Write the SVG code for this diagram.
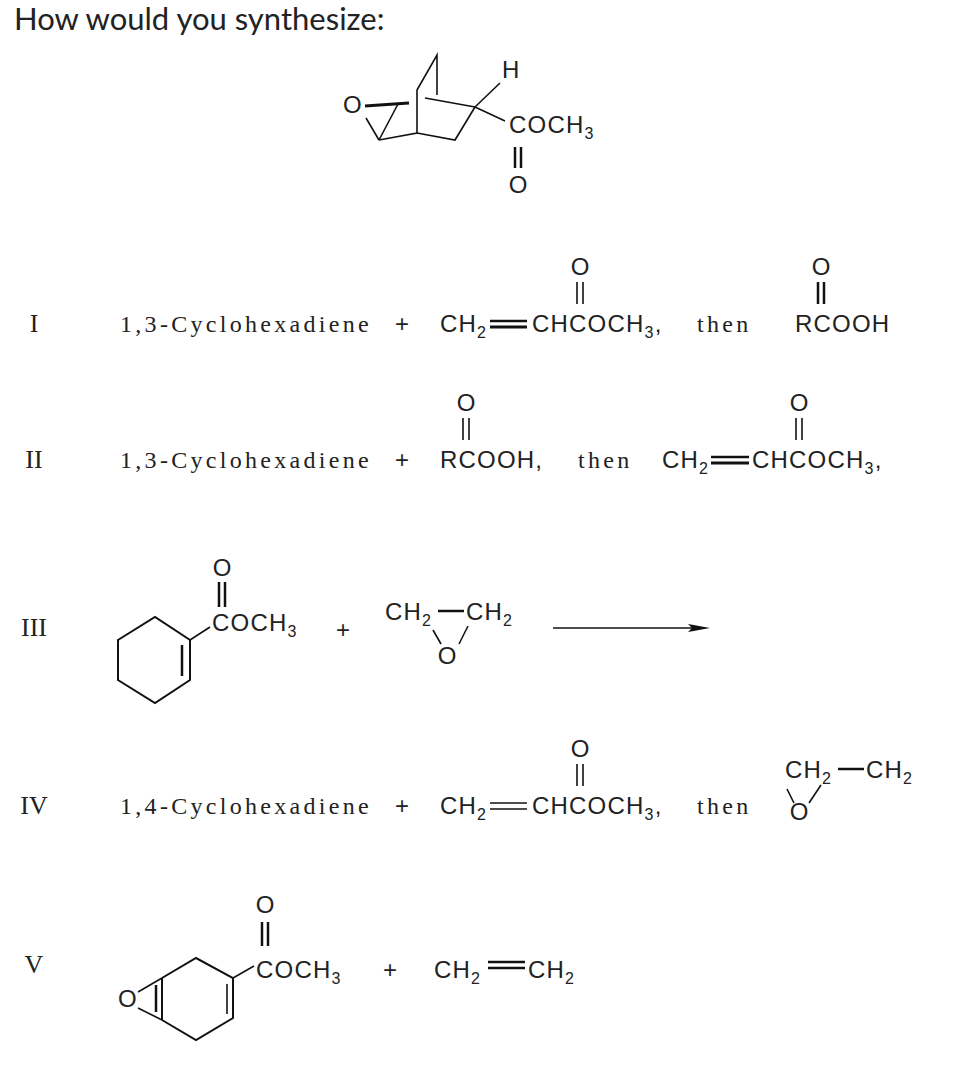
<svg xmlns="http://www.w3.org/2000/svg" width="966" height="1088" viewBox="0 0 966 1088">
<style>
.t{font-family:"Liberation Sans",Arial,sans-serif;font-size:24px;letter-spacing:1.2px;fill:#222}
.s{font-size:16px}
.r{font-family:"Liberation Serif","DejaVu Serif",serif;font-size:26px;fill:#222}
.n{font-family:"Liberation Serif","DejaVu Serif",serif;font-size:24px;letter-spacing:3.3px;fill:#222}
.m{text-anchor:middle;letter-spacing:0}
.b{stroke:#111;stroke-width:1.6;fill:none}
</style>
<rect width="966" height="1088" fill="#fff"/>
<text x="14" y="30" font-family="Lato,'Liberation Sans',sans-serif" font-size="31" fill="#222">How would you synthesize:</text>

<g id="target">
<text class="t" x="343" y="113">O</text>
<text class="t" x="502" y="78">H</text>
<text class="t" x="509" y="133">COCH<tspan class="s" dy="6">3</tspan></text>
<text class="t m" x="518" y="193">O</text>
<g class="b">
<line x1="365" y1="106" x2="409" y2="103" style="stroke-width:3"/>
<line x1="366" y1="118" x2="379" y2="140"/>
<line x1="398" y1="104" x2="379" y2="140"/>
<polyline points="379,140 417,133 417,90 437,55 437,95"/>
<line x1="425" y1="98" x2="475" y2="107"/>
<line x1="475" y1="107" x2="500" y2="83"/>
<line x1="475" y1="107" x2="505" y2="121"/>
<polyline points="475,107 455,140 417,133"/>
<line x1="515" y1="147" x2="515" y2="168" style="stroke-width:2.5"/>
<line x1="521" y1="147" x2="521" y2="168" style="stroke-width:2.5"/>
</g>
</g>

<g id="optI">
<text class="r m" x="34" y="332">I</text>
<text class="n" x="120" y="332">1,3-Cyclohexadiene</text>
<text class="t m" x="402" y="332">+</text>
<text class="t" x="440" y="332">CH<tspan class="s" dy="6">2</tspan></text>
<text class="t" x="532" y="332">CHCOCH<tspan class="s" dy="6">3</tspan><tspan dy="-6">,</tspan></text>
<text class="t m" x="580" y="275">O</text>
<text class="n" x="697" y="332">then</text>
<text class="t" x="795" y="332">RCOOH</text>
<text class="t m" x="821" y="275">O</text>
<g class="b">
<line x1="490" y1="321" x2="527" y2="321" style="stroke-width:2.5"/>
<line x1="490" y1="327" x2="527" y2="327" style="stroke-width:3"/>
<line x1="577" y1="282" x2="577" y2="304"/><line x1="583" y1="282" x2="583" y2="304"/>
<line x1="818" y1="282" x2="818" y2="304" style="stroke-width:2.5"/><line x1="824" y1="282" x2="824" y2="304" style="stroke-width:2.5"/>
</g>
</g>

<g id="optII">
<text class="r m" x="34" y="468">II</text>
<text class="n" x="120" y="468">1,3-Cyclohexadiene</text>
<text class="t m" x="402" y="468">+</text>
<text class="t" x="440" y="468">RCOOH,</text>
<text class="t m" x="466" y="411">O</text>
<text class="n" x="578" y="468">then</text>
<text class="t" x="662" y="468">CH<tspan class="s" dy="6">2</tspan></text>
<text class="t" x="752" y="468">CHCOCH<tspan class="s" dy="6">3</tspan><tspan dy="-6">,</tspan></text>
<text class="t m" x="799" y="411">O</text>
<g class="b">
<line x1="711" y1="457" x2="749" y2="457" style="stroke-width:2.5"/>
<line x1="711" y1="463" x2="749" y2="463" style="stroke-width:3"/>
<line x1="463" y1="418" x2="463" y2="440"/><line x1="469" y1="418" x2="469" y2="440"/>
<line x1="796" y1="418" x2="796" y2="440"/><line x1="802" y1="418" x2="802" y2="440"/>
</g>
</g>

<g id="optIII">
<text class="r m" x="34" y="636">III</text>
<text class="t" x="212" y="631">COCH<tspan class="s" dy="6">3</tspan></text>
<text class="t m" x="222" y="576">O</text>
<text class="t m" x="343" y="638">+</text>
<text class="t" x="385" y="620">CH<tspan class="s" dy="6">2</tspan></text>
<text class="t" x="466" y="620">CH<tspan class="s" dy="6">2</tspan></text>
<text class="t m" x="447" y="664">O</text>
<g class="b">
<polygon points="118,640 155,617 190,640 190,680 155,703 118,680" style="stroke-width:2"/>
<line x1="182" y1="645" x2="182" y2="676" style="stroke-width:2.5"/>
<line x1="190" y1="640" x2="210" y2="627"/>
<line x1="219" y1="582" x2="219" y2="607" style="stroke-width:2.5"/>
<line x1="225" y1="582" x2="225" y2="607" style="stroke-width:2.5"/>
<line x1="438" y1="611" x2="464" y2="611" style="stroke-width:2.5"/>
<line x1="433" y1="630" x2="441" y2="644"/>
<line x1="468" y1="626" x2="459" y2="644"/>
</g>
</g>

<g id="optIV">
<text class="r m" x="34" y="814">IV</text>
<text class="n" x="120" y="814">1,4-Cyclohexadiene</text>
<text class="t m" x="402" y="814">+</text>
<text class="t" x="440" y="814">CH<tspan class="s" dy="6">2</tspan></text>
<text class="t" x="532" y="814">CHCOCH<tspan class="s" dy="6">3</tspan><tspan dy="-6">,</tspan></text>
<text class="t m" x="580" y="757">O</text>
<text class="n" x="697" y="814">then</text>
<text class="t" x="785" y="778">CH<tspan class="s" dy="6">2</tspan></text>
<text class="t" x="866" y="778">CH<tspan class="s" dy="6">2</tspan></text>
<text class="t m" x="799" y="820">O</text>
<g class="b">
<line x1="490" y1="803" x2="527" y2="803"/>
<line x1="490" y1="809" x2="527" y2="809"/>
<line x1="577" y1="764" x2="577" y2="786"/><line x1="583" y1="764" x2="583" y2="786"/>
<line x1="838" y1="769" x2="864" y2="769" style="stroke-width:2.5"/>
<line x1="787" y1="789" x2="794" y2="803"/>
<line x1="821" y1="785" x2="809" y2="803"/>
</g>
</g>

<g id="optV">
<text class="r m" x="34" y="973">V</text>
<text class="t" x="118" y="1007">O</text>
<text class="t" x="256" y="978">COCH<tspan class="s" dy="6">3</tspan></text>
<text class="t m" x="265" y="913">O</text>
<text class="t m" x="390" y="978">+</text>
<text class="t" x="434" y="978">CH<tspan class="s" dy="6">2</tspan></text>
<text class="t" x="528" y="978">CH<tspan class="s" dy="6">2</tspan></text>
<g class="b">
<polyline points="162,978 196,958 233,978 233,1018 196,1040 162,1020" style="stroke-width:2"/>
<line x1="162" y1="978" x2="162" y2="1020" style="stroke-width:2"/>
<line x1="156" y1="985" x2="156" y2="1012" style="stroke-width:2.5"/>
<line x1="138" y1="992" x2="162" y2="978"/>
<line x1="138" y1="1008" x2="162" y2="1020"/>
<line x1="227" y1="984" x2="227" y2="1014"/>
<line x1="233" y1="978" x2="254" y2="966"/>
<line x1="262" y1="922" x2="262" y2="946" style="stroke-width:2.5"/>
<line x1="268" y1="922" x2="268" y2="946" style="stroke-width:2.5"/>
<line x1="488" y1="962" x2="525" y2="962" style="stroke-width:2.5"/>
<line x1="488" y1="968" x2="525" y2="968" style="stroke-width:2.5"/>
</g>
</g>

<g id="connectors">
<line x1="553" y1="628" x2="692" y2="628" stroke="#111" stroke-width="1.5"/>
<polygon points="710,628 688,624 692,628 688,632" fill="#111"/>
</g>
</svg>
